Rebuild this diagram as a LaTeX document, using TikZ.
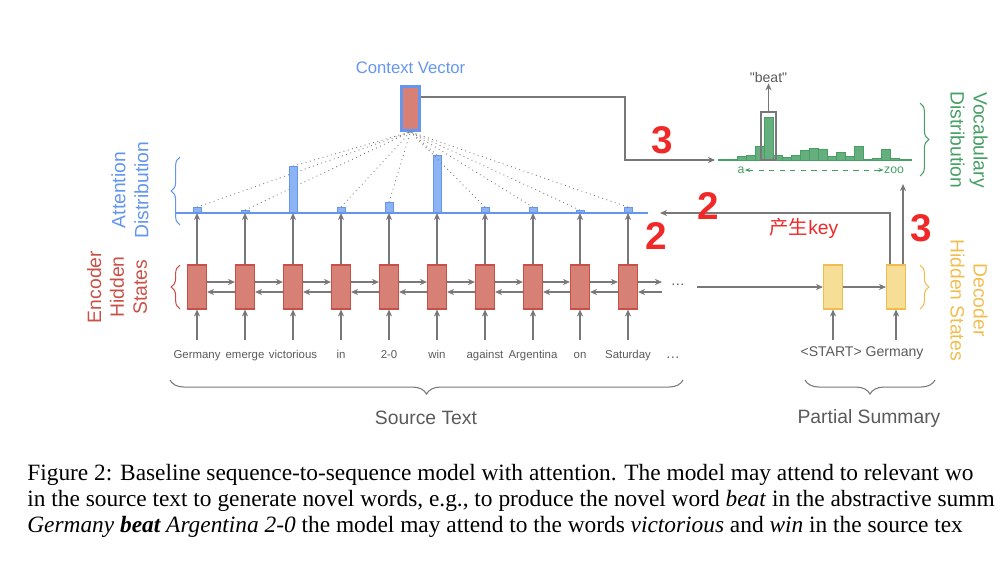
\documentclass[tikz,border=0pt]{standalone}
\usepackage{fontspec}
\setmainfont{Liberation Serif}
\newfontfamily\diag{Liberation Sans}
\newfontfamily\cjk{Noto Sans CJK SC}
\usetikzlibrary{positioning,calc,arrows.meta,decorations.pathreplacing}
\definecolor{encred}{RGB}{214,128,118}
\definecolor{encedge}{RGB}{200,80,70}
\definecolor{attblue}{RGB}{100,150,240}
\definecolor{attfill}{RGB}{140,180,245}
\definecolor{vocgreen}{RGB}{70,160,100}
\definecolor{vocfill}{RGB}{100,175,125}
\definecolor{decfill}{RGB}{247,222,150}
\definecolor{decedge}{RGB}{240,190,80}
\definecolor{linegray}{RGB}{120,120,120}
\definecolor{txtgray}{RGB}{90,90,90}
\definecolor{markred}{RGB}{240,40,40}
\tikzset{
  arrow/.style={-{Stealth[length=4pt,width=3.5pt]}, linegray, line width=0.6pt},
  enc/.style={rectangle, draw=encedge, fill=encred, line width=0.6pt, minimum width=0.38cm, minimum height=0.88cm, inner sep=0pt},
  dec/.style={rectangle, draw=decedge, fill=decfill, line width=0.6pt, minimum width=0.38cm, minimum height=0.88cm, inner sep=0pt},
  word/.style={font=\diag\fontsize{6.5}{7}\selectfont, text=txtgray, inner sep=0pt},
  side/.style={font=\diag\fontsize{11}{13}\selectfont, align=center, inner sep=0pt},
  brace/.style={decorate, decoration={brace, amplitude=5pt}, line width=0.6pt},
  handmark/.style={font=\diag\bfseries\fontsize{22}{22}\selectfont, text=markred, inner sep=0pt},
  caption/.style={anchor=west, inner sep=0pt, font=\fontsize{13.3}{15}\selectfont},
}
\begin{document}
\begin{tikzpicture}[x=0.02cm, y=-0.02cm]
\useasboundingbox (0,0) rectangle (1003,566);
% encoder states, attention bars, source words
\draw[attblue, line width=0.8pt] (175,213) -- (648,213);
\node[rectangle, draw=attblue, fill=encred, line width=1.5pt, minimum width=0.36cm, minimum height=0.88cm, inner sep=0pt] (ctx) at (410.5,108.5) {};
\node[font=\diag\fontsize{9.5}{11}\selectfont, text=attblue, above=3pt of ctx] (ctxlabel) {Context Vector};
\foreach \x/\w/\h [count=\i] in {197/Germany/5, 245/emerge/2, 293/victorious/46, 341/in/5, 389/2-0/10, 437/win/57, 485/against/5, 533/Argentina/5, 580/on/2, 628/Saturday/5}{
  \node[enc] (enc\i) at (\x,287) {};
  \node[word, anchor=base] (word\i) at (\x,358) {\w};
  \node[rectangle, draw=attblue, fill=attfill, line width=0.5pt, minimum width=0.16cm, minimum height=\h*0.02cm, inner sep=0pt, anchor=south] (bar\i) at (\x,213) {};
  \draw[arrow] (\x,340) -- (enc\i.south);
  \draw[arrow] (enc\i.north) -- (bar\i.south);
  \draw[linegray, dotted, line width=0.5pt] (bar\i.north) -- (ctx.south);
}
\foreach \i [evaluate=\i as \j using int(\i+1)] in {1,...,9}{
  \draw[arrow] ($(enc\i.east)+(0,-5)$) -- ($(enc\j.west)+(0,-5)$);
  \draw[arrow] ($(enc\j.west)+(0,5)$) -- ($(enc\i.east)+(0,5)$);
}
\coordinate (encout) at (662,282);
\coordinate (encin) at (662,292);
\draw[arrow] ($(enc10.east)+(0,-5)$) -- (encout);
\draw[arrow] (encin) -- ($(enc10.east)+(0,5)$);
\node[word, font=\diag\fontsize{8}{8}\selectfont] (dots1) at (678,285) {\dots};
\node[word, font=\diag\fontsize{8}{8}\selectfont, anchor=base] (dots2) at (673,358) {\dots};
% decoder
\node[dec] (dec1) at (833,287) {};
\node[dec] (dec2) at (896,287) {};
\coordinate (decin) at (697,287);
\draw[arrow] (decin) -- (dec1.west);
\draw[arrow] (dec1.east) -- (dec2.west);
\node[word, font=\diag\fontsize{8}{9}\selectfont] (start) at (862,353) {<START> Germany};
\draw[arrow] (833,340) -- (dec1.south);
\draw[arrow] (896,340) -- (dec2.south);
\coordinate (keyend) at (660,213);
\draw[arrow] ($(dec2.north)+(-6,0)$) |- (keyend);
% vocabulary distribution
\draw[vocgreen, line width=0.7pt] (718,160) -- (912,160);
\foreach \t [count=\k from 0] in {156,155,146,117,155,157,155,150,148,149,156,152,156,146,159,158,149,158}{
  \fill[vocfill] (737+\k*9,160) rectangle (746+\k*9,\t);
  \draw[vocgreen, line width=0.4pt] (737+\k*9,160) rectangle (746+\k*9,\t);
}
\node[rectangle, draw=linegray, line width=0.6pt, minimum width=0.3cm, minimum height=0.96cm, inner sep=0pt] (beatbox) at (768.5,136) {};
\node[word, font=\diag\fontsize{8}{9}\selectfont, above=16pt of beatbox] (beat) {"beat"};
\draw[arrow] (beatbox.north) -- (beat.south);
\node[word, text=vocgreen, font=\diag\fontsize{7}{8}\selectfont] (va) at (741,170) {a};
\node[word, text=vocgreen, font=\diag\fontsize{7}{8}\selectfont] (vz) at (894,170) {zoo};
\draw[vocgreen, dashed, {Stealth[length=3pt]}-{Stealth[length=3pt]}, line width=0.5pt] (va.east) -- (vz.west);
\coordinate (vocin) at (715,160);
\draw[arrow] (ctx.east |- 0,97) -| (625,160) -- (vocin);
\coordinate (vocbot) at (903,184);
\draw[arrow] (dec2.north -| vocbot) -- (vocbot);
% side labels and braces
\draw[brace, attblue] (180,225) -- (180,157);
\node[side, text=attblue, rotate=90] (attlabel) at (130,190) {Attention\\Distribution};
\draw[brace, encedge] (180,309) -- (180,265);
\node[side, text=encedge, rotate=90] (enclabel) at (117,287) {Encoder\\Hidden\\States};
\draw[brace, vocgreen] (920,103) -- (920,176);
\node[side, text=vocgreen, rotate=-90] (voclabel) at (969,140) {Vocabulary\\Distribution};
\draw[brace, decedge] (920,265) -- (920,309);
\node[side, text=decedge, rotate=-90] (declabel) at (969,300) {Decoder\\Hidden States};
\draw[brace, linegray, decoration={mirror, amplitude=8pt}] (170,380) -- (683,380);
\node[side, text=txtgray] (srclabel) at (426,418) {Source Text};
\draw[brace, linegray, decoration={mirror, amplitude=8pt}] (805,380) -- (935,380);
\node[side, text=txtgray] (sumlabel) at (869,418) {Partial Summary};
% hand marks
\node[handmark] (m3a) at (662,140) {3};
\node[handmark] (m2a) at (708,206) {2};
\node[handmark] (m2b) at (656,236) {2};
\node[handmark] (m3b) at (921,228) {3};
\node[text=markred, font=\fontsize{11}{12}\selectfont, inner sep=0pt] (keylabel) at (804,228) {{\cjk 产生}{\diag key}};
% caption
\node[caption] (cap1) at (27,475) {Figure 2: Baseline sequence-to-sequence model with attention. The model may attend to relevant wo};
\node[caption] (cap2) at (27,501) {in the source text to generate novel words, e.g., to produce the novel word \textit{beat} in the abstractive summ};
\node[caption] (cap3) at (27,527) {\textit{Germany \textbf{beat} Argentina 2-0} the model may attend to the words \textit{victorious} and \textit{win} in the source tex};
\end{tikzpicture}
\end{document}
